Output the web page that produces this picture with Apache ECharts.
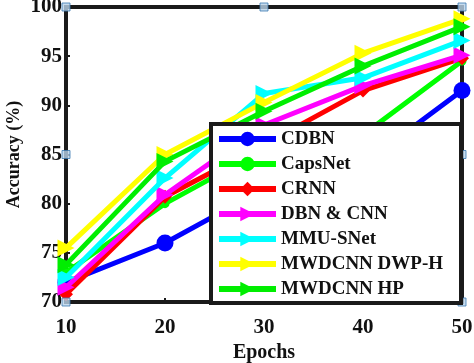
<!DOCTYPE html>
<html><head><meta charset="utf-8">
<script src="https://cdn.jsdelivr.net/npm/echarts@6/dist/echarts.min.js"></script>
<style>html,body{margin:0;padding:0;background:#fff}#c{width:474px;height:363px}</style>
</head><body><div id="c"></div>
<script>
const epochs = [10, 20, 30, 40, 50];
const cdbn    = [72.0, 76.0, 81.5, 84.0, 91.5];
const capsnet = [73.0, 80.0, 85.5, 87.0, 94.5];
const crnn    = [70.8, 80.7, 86.0, 91.5, 94.8];
const dbncnn  = [71.5, 80.9, 88.0, 92.0, 95.1];
const mmusnet = [72.5, 82.6, 91.2, 92.8, 96.6];
const dwph    = [75.5, 85.0, 90.3, 95.3, 98.8];
const hp      = [73.8, 84.3, 89.4, 94.0, 98.0];
const yTicks = [70, 75, 80, 85, 90, 95, 100];
const tipX = [10, 10, 10, 30, 50, 50, 50];
const tipY = [100, 85, 70, 100, 100, 85, 70];

const names = ['CDBN','CapsNet','CRNN','DBN & CNN','MMU-SNet','MWDCNN DWP-H','MWDCNN HP'];
const values = [cdbn, capsnet, crnn, dbncnn, mmusnet, dwph, hp];
const colors = ['#0000ff','#00ff00','#ff0000','#ff00ff','#00ffff','#ffff00','#00ee00'];
const symbols = ['circle','circle','diamond','triangle','triangle','triangle','triangle'];
const symSizes = [17, 9, 14, 17, 17, 17, 17];
const rot = [0,0,0,-90,-90,-90,-90];
const font = "'Liberation Serif', 'Times New Roman', serif";

const series = names.map((n,i)=>({
  name:n, type:'line', data: epochs.map((e,j)=>[e, values[i][j]]),
  symbol: symbols[i], symbolSize: symSizes[i], symbolRotate: rot[i],
  itemStyle:{color:colors[i]}, lineStyle:{color:colors[i], width:5},
  z: 2 + i*0.01, animation:false
}));
series.push({
  name:'tips', type:'scatter', data: tipX.map((x,i)=>[x, tipY[i]]),
  symbol:'rect', symbolSize:8,
  itemStyle:{color:'#b9d3ea', borderColor:'#3a78b0', borderWidth:1},
  z:5, animation:false, silent:true
});

const chart = echarts.init(document.getElementById('c'), null, {renderer:'canvas'});
chart.setOption({
  animation:false,
  backgroundColor:'#fff',
  grid:{left:66, right:12, top:7, bottom:61, show:true, borderColor:'#1a1a1a', borderWidth:4,
    backgroundColor:'transparent', containLabel:false, outerBoundsMode:'none'},
  xAxis:{type:'value', min:10, max:50, interval:10,
    name:'Epochs', nameLocation:'middle', nameGap:41, nameMoveOverlap:false,
    nameTextStyle:{fontFamily:font, fontWeight:'bold', fontSize:20, color:'#111'},
    axisLine:{show:true, lineStyle:{color:'#1a1a1a', width:4}},
    axisTick:{show:true, inside:true, length:4, lineStyle:{color:'#1a1a1a', width:2}},
    axisLabel:{fontFamily:font, fontWeight:'bold', fontSize:21, color:'#111', margin:15},
    splitLine:{show:false}},
  yAxis:{type:'value', min:70, max:100, interval:5,
    name:'Accuracy (%)', nameLocation:'middle', nameGap:43, nameRotate:90, nameMoveOverlap:false,
    nameTextStyle:{fontFamily:font, fontWeight:'bold', fontSize:18, color:'#111'},
    axisLine:{show:true, lineStyle:{color:'#1a1a1a', width:4}},
    axisTick:{show:true, inside:true, length:4, lineStyle:{color:'#1a1a1a', width:2}},
    axisLabel:{fontFamily:font, fontWeight:'bold', fontSize:21, color:'#111', margin:4,
      formatter:(v)=> yTicks.includes(v) ? String(v) : ''},
    splitLine:{show:false}},
  legend:{data:names, orient:'vertical', left:211, top:124,
    backgroundColor:'#fff', borderColor:'#1a1a1a', borderWidth:4,
    padding:[5, 18, 4, 5], itemWidth:57, itemHeight:18, itemGap:5,
    lineStyle:{width:6},
    textStyle:{fontFamily:font, fontWeight:'bold', fontSize:19, color:'#111', lineHeight:20},
    z:10},
  series: series
});
</script></body></html>
